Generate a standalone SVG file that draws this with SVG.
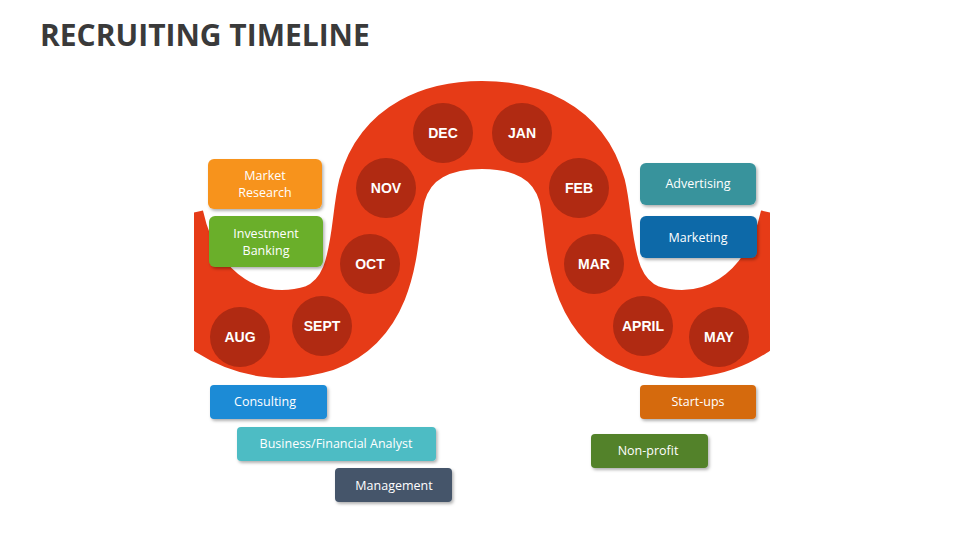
<svg xmlns="http://www.w3.org/2000/svg" width="960" height="540" viewBox="0 0 960 540">
<defs>
<clipPath id="c"><rect x="194" y="0" width="576" height="540"/></clipPath>
<filter id="sh" x="-10%" y="-10%" width="130%" height="140%"><feDropShadow dx="1.5" dy="2" stdDeviation="1.5" flood-color="#000" flood-opacity="0.3"/></filter>
</defs>
<style>
.m{fill:#B02A12}
.mt{font-family:"Liberation Sans",Arial,sans-serif;font-weight:bold;font-size:14px;fill:#fff;text-anchor:middle}
.bt{font-family:"Open Sans","Liberation Sans",sans-serif;font-size:12.5px;fill:#fff;text-anchor:middle}
.b{filter:url(#sh)}
</style>
<rect width="960" height="540" fill="#fff"/>
<text x="40" y="46" font-family="'Open Sans','Liberation Sans',sans-serif" font-weight="bold" font-size="30" fill="#3a3a3a">RECRUITING TIMELINE</text>
<g id="band" clip-path="url(#c)">
<path d="M160,220 C180,310 250,350 320,328 C380,305 372,230 382,190 C396,140 440,125 482,125 C524,125 568,140 582,190 C592,230 584,305 644,328 C714,350 784,310 804,220" fill="none" stroke="#E63B17" stroke-width="88"/>
</g>
<g id="months">
<g id="aug"><circle class="m" cx="240" cy="337" r="30"/><text class="mt" x="240" y="342">AUG</text></g>
<g id="sept"><circle class="m" cx="322" cy="326" r="30"/><text class="mt" x="322" y="331">SEPT</text></g>
<g id="oct"><circle class="m" cx="370" cy="264" r="30"/><text class="mt" x="370" y="269">OCT</text></g>
<g id="nov"><circle class="m" cx="386" cy="188" r="30"/><text class="mt" x="386" y="193">NOV</text></g>
<g id="dec"><circle class="m" cx="443" cy="133" r="30"/><text class="mt" x="443" y="138">DEC</text></g>
<g id="jan"><circle class="m" cx="522" cy="133" r="30"/><text class="mt" x="522" y="138">JAN</text></g>
<g id="feb"><circle class="m" cx="579" cy="188" r="30"/><text class="mt" x="579" y="193">FEB</text></g>
<g id="mar"><circle class="m" cx="594" cy="264" r="30"/><text class="mt" x="594" y="269">MAR</text></g>
<g id="april"><circle class="m" cx="643" cy="326" r="30"/><text class="mt" x="643" y="331">APRIL</text></g>
<g id="may"><circle class="m" cx="719" cy="337" r="30"/><text class="mt" x="719" y="342">MAY</text></g>
</g>
<g id="market"><rect class="b" x="208" y="159" width="114" height="50" rx="6" fill="#F7931E"/><text class="bt" x="265" y="180">Market</text><text class="bt" x="265" y="197">Research</text></g>
<g id="invest"><rect class="b" x="209" y="216" width="114" height="51" rx="6" fill="#6AAF2A"/><text class="bt" x="266" y="238">Investment</text><text class="bt" x="266" y="255">Banking</text></g>
<g id="adv"><rect class="b" x="640" y="163" width="116" height="42" rx="6" fill="#37939C"/><text class="bt" x="698" y="188">Advertising</text></g>
<g id="mkt"><rect class="b" x="640" y="216" width="117" height="42" rx="6" fill="#0F69A8"/><text class="bt" x="698" y="242">Marketing</text></g>
<g id="consult"><rect class="b" x="210" y="385" width="117" height="34" rx="4" fill="#1A8BD6"/><text class="bt" x="265" y="406">Consulting</text></g>
<g id="bfa"><rect class="b" x="237" y="427" width="199" height="34" rx="4" fill="#4DBCC4"/><text class="bt" x="336" y="448">Business/Financial Analyst</text></g>
<g id="mgmt"><rect class="b" x="335" y="468" width="117" height="34" rx="4" fill="#44546A"/><text class="bt" x="394" y="490">Management</text></g>
<g id="startups"><rect class="b" x="640" y="385" width="116" height="34" rx="4" fill="#D56A0C"/><text class="bt" x="698" y="406">Start-ups</text></g>
<g id="nonprofit"><rect class="b" x="591" y="434" width="117" height="34" rx="4" fill="#53822A"/><text class="bt" x="648" y="455">Non-profit</text></g>
<g id="connectors"/>
</svg>
